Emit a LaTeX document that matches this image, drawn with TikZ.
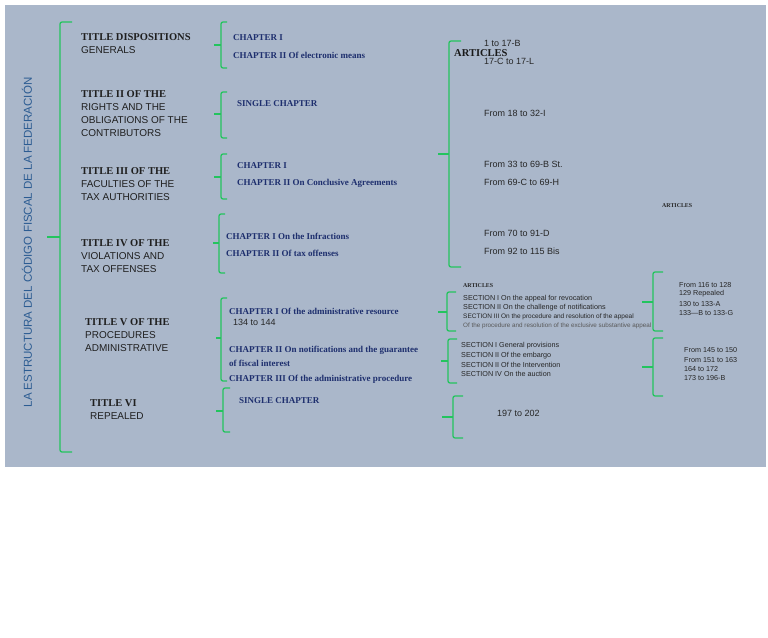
\documentclass[tikz,border=0pt]{standalone}
\usepackage{fontspec}
\setmainfont{Liberation Serif}
\setsansfont{Liberation Sans}
\usepackage{tikz}
\usetikzlibrary{calc}
\definecolor{bgblue}{RGB}{170,183,202}
\definecolor{bracegreen}{RGB}{35,196,94}
\definecolor{chapnavy}{RGB}{30,47,110}
\definecolor{headblue}{RGB}{44,92,146}
\tikzset{
	brack/.style={draw=bracegreen,line width=1.3pt,rounded corners=2pt},
	titlebox/.style={anchor=west,inner sep=0pt,align=left,font=\sffamily\fontsize{10}{13}\selectfont,text=black!88},
	chap/.style={anchor=west,inner sep=0pt,font=\rmfamily\bfseries\fontsize{9}{11}\selectfont,text=chapnavy},
	art/.style={anchor=west,inner sep=0pt,font=\sffamily\fontsize{9}{11}\selectfont,text=black!85},
	sect/.style={anchor=west,inner sep=0pt,font=\sffamily\fontsize{7.2}{9}\selectfont,text=black!85},
	arthead/.style={anchor=west,inner sep=0pt,font=\rmfamily\bfseries\fontsize{10.5}{12}\selectfont,text=black!90},
	tinyhead/.style={anchor=west,inner sep=0pt,font=\rmfamily\bfseries\fontsize{5.9}{7}\selectfont,text=black!85}
}
\newcommand{\ttlhead}[1]{{\rmfamily\bfseries\fontsize{10.5}{13}\selectfont #1}}
\newcommand{\drawbrack}[7]{
	\coordinate (#1) at (#6,#5);
	\coordinate (#1s) at (#2,#5);
	\draw[brack] (#2+#7,#3) -- (#2,#3) -- (#2,#4) -- (#2+#7,#4);
	\draw[brack] (#1) -- (#1s);
}
\begin{document}
\begin{tikzpicture}[x=1pt,y=-1pt]
	\useasboundingbox (0,0) rectangle (768,637);
	\fill[bgblue] (5,5) rectangle (766,467);
	\node[rotate=90,inner sep=0pt,font=\sffamily\fontsize{11.5}{13}\selectfont,text=headblue] (head) at (27,242.5) {LA ESTRUCTURA DEL CÓDIGO FISCAL DE LA FEDERACIÓN};
	\drawbrack{b0}{60}{22}{452}{237}{47}{12}
	\node[titlebox] (t1) at (81,43.5) {\ttlhead{TITLE DISPOSITIONS}\\GENERALS};
	\node[titlebox] (t2) at (81,113.5) {\ttlhead{TITLE II OF THE}\\RIGHTS AND THE\\OBLIGATIONS OF THE\\CONTRIBUTORS};
	\node[titlebox] (t3) at (81,184.5) {\ttlhead{TITLE III OF THE}\\FACULTIES OF THE\\TAX AUTHORITIES};
	\node[titlebox] (t4) at (81,256) {\ttlhead{TITLE IV OF THE}\\VIOLATIONS AND\\TAX OFFENSES};
	\node[titlebox] (t5) at (85,335) {\ttlhead{TITLE V OF THE}\\PROCEDURES\\ADMINISTRATIVE};
	\node[titlebox] (t6) at (90,410) {\ttlhead{TITLE VI}\\REPEALED};
	\drawbrack{b1}{221}{22}{68}{45}{214}{6}
	\drawbrack{b2}{221}{92}{138}{114}{214}{6}
	\drawbrack{b3}{221}{154}{199}{177}{214}{6}
	\drawbrack{b4}{219}{214}{273}{243}{213}{6}
	\drawbrack{b5}{221}{298}{381}{338}{216}{6}
	\drawbrack{b6}{223}{388}{432}{411}{216}{7}
	\node[chap] (c1a) at (233,38) {CHAPTER I};
	\node[chap] (c1b) at (233,55) {CHAPTER II Of electronic means};
	\node[chap] (c2) at (237,104) {SINGLE CHAPTER};
	\node[chap] (c3a) at (237,166) {CHAPTER I};
	\node[chap] (c3b) at (237,183) {CHAPTER II On Conclusive Agreements};
	\node[chap] (c4a) at (226,236) {CHAPTER I On the Infractions};
	\node[chap] (c4b) at (226,253) {CHAPTER II Of tax offenses};
	\node[chap] (c5a) at (229,311) {CHAPTER I Of the administrative resource};
	\node[art] (c5n) at (233,322) {134 to 144};
	\node[chap] (c5b) at (229,350) {CHAPTER II On notifications and the guarantee};
	\node[chap] (c5c) at (229,363) {of fiscal interest};
	\node[chap] (c5d) at (229,379) {CHAPTER III Of the administrative procedure};
	\node[chap] (c6) at (239,401) {SINGLE CHAPTER};
	\drawbrack{a0}{449}{41}{267}{154}{438}{12}
	\drawbrack{a1}{447}{292}{331}{312}{438}{9}
	\drawbrack{a2}{448}{339}{383}{361}{441}{9}
	\drawbrack{a3}{453}{396}{438}{417}{442}{10}
	\foreach \y/\t [count=\i] in {43/1 to 17-B,61/17-C to 17-L,113/From 18 to 32-I,164/From 33 to 69-B St.,182/From 69-C to 69-H,233/From 70 to 91-D,251/From 92 to 115 Bis}
		\node[art] (n\i) at (484,\y) {\t};
	\node[arthead] (arts) at (454,53) {ARTICLES};
	\node[tinyhead] (arts2) at (662,206) {ARTICLES};
	\node[tinyhead] (arts3) at (463,286) {ARTICLES};
	\node[sect] (s1a) at (463,299) {SECTION I On the appeal for revocation};
	\node[sect] (s1b) at (463,308) {SECTION II On the challenge of notifications};
	\node[sect,font=\sffamily\fontsize{6.5}{8}\selectfont] (s1c) at (463,317) {SECTION III On the procedure and resolution of the appeal};
	\node[sect,font=\sffamily\fontsize{6.3}{8}\selectfont,text=black!65] (s1d) at (463,326) {Of the procedure and resolution of the exclusive substantive appeal};
	\foreach \y/\t [count=\i] in {346/SECTION I General provisions,356/SECTION II Of the embargo,365/SECTION II Of the Intervention,374/SECTION IV On the auction}
		\node[sect] (s2\i) at (461,\y) {\t};
	\node[art] (last) at (497,413) {197 to 202};
	\drawbrack{r1}{653}{272}{331}{302}{642}{10}
	\drawbrack{r2}{653}{338}{396}{367}{642}{10}
	\foreach \y/\t [count=\i] in {285/From 116 to 128,294/129 Repealed,304/130 to 133-A,313/133—B to 133-G}
		\node[sect] (ra\i) at (679,\y) {\t};
	\foreach \y/\t [count=\i] in {350/From 145 to 150,360/From 151 to 163,369/164 to 172,378/173 to 196-B}
		\node[sect] (rb\i) at (684,\y) {\t};
\end{tikzpicture}
\end{document}
